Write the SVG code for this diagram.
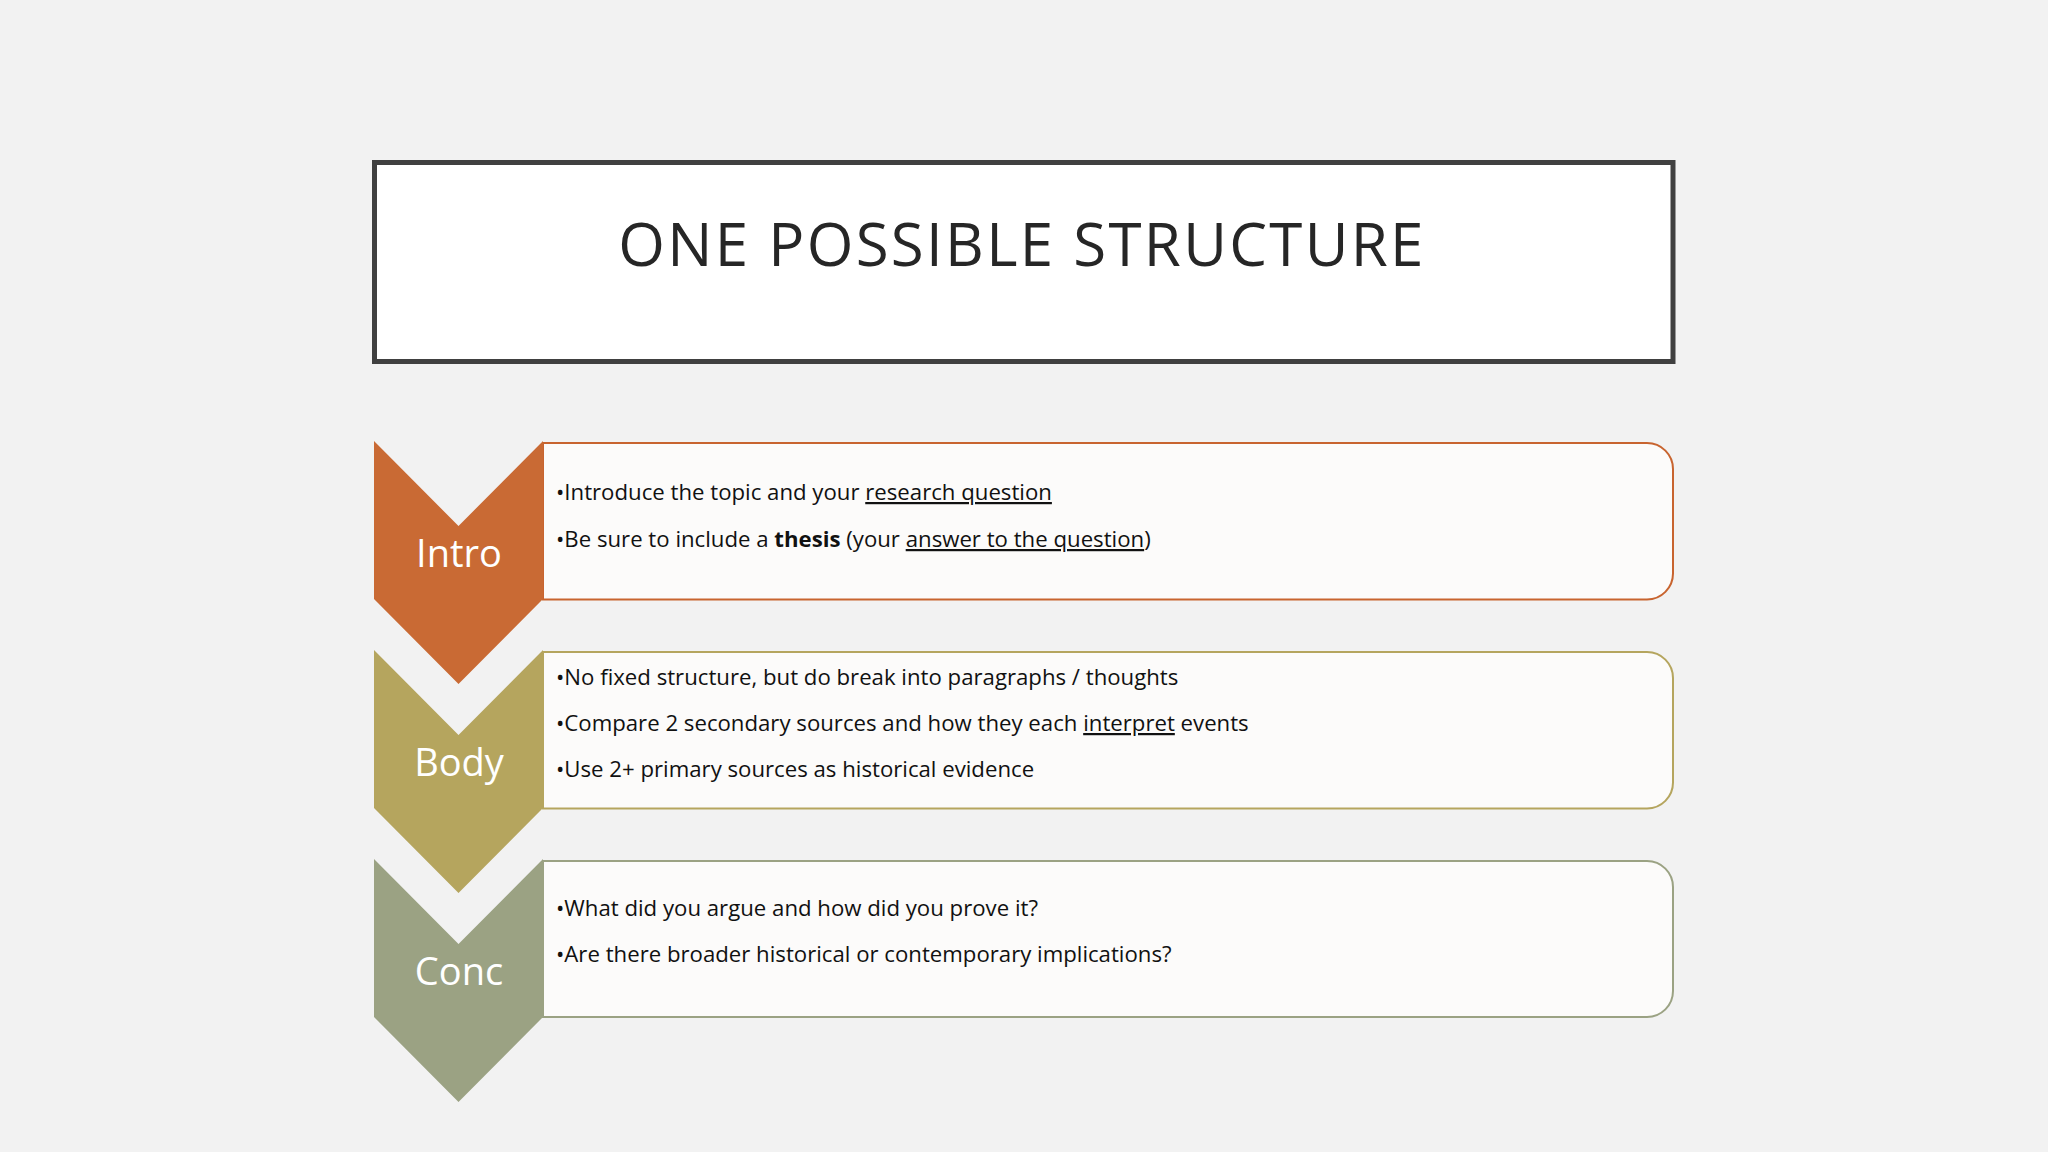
<svg xmlns="http://www.w3.org/2000/svg" width="2048" height="1152" viewBox="0 0 2048 1152">
<style>
.bg{fill:#F2F2F2}
.title-box{fill:#FFFFFF;stroke:#404040;stroke-width:5}
.title{font-family:"Open Sans","Noto Sans",sans-serif;font-size:60px;fill:#262626;letter-spacing:2.3px}
.label{font-family:"Open Sans","Noto Sans",sans-serif;font-size:38px;fill:#FFFFFF}
.item{font-family:"Open Sans","Noto Sans",sans-serif;font-size:22.2px;fill:#111111}
.u{text-decoration:underline}
.b{font-weight:bold}
.box{fill:#FCFBFA;stroke-width:2}
</style>
<rect class="bg" x="0" y="0" width="2048" height="1152"/>
<g id="title">
<rect class="title-box" x="374.5" y="162.5" width="1298.5" height="199"/>
<text class="title" x="1022" y="266" text-anchor="middle">ONE POSSIBLE STRUCTURE</text>
</g>
<g id="connectors"></g>
<g id="intro-box">
<path class="box" stroke="#C8642F" d="M543 443 H1647 A26 26 0 0 1 1673 469 V573.5 A26 26 0 0 1 1647 599.5 H543 Z"/>
<text class="item" x="556" y="500">•Introduce the topic and your <tspan class="u">research question</tspan></text>
<text class="item" x="556" y="547">•Be sure to include a <tspan class="b">thesis</tspan> (your <tspan class="u">answer to the question</tspan>)</text>
</g>
<g id="intro">
<path fill="#C96A34" d="M374 441 L458.5 526 L543 441 L543 599 L458.5 684 L374 599 Z"/>
<text class="label" x="459" y="567" text-anchor="middle">Intro</text>
</g>
<g id="body-box">
<path class="box" stroke="#B5A55E" d="M543 652 H1647 A26 26 0 0 1 1673 678 V782.5 A26 26 0 0 1 1647 808.5 H543 Z"/>
<text class="item" x="556" y="685">•No fixed structure, but do break into paragraphs / thoughts</text>
<text class="item" x="556" y="731">•Compare 2 secondary sources and how they each <tspan class="u">interpret</tspan> events</text>
<text class="item" x="556" y="777">•Use 2+ primary sources as historical evidence</text>
</g>
<g id="body">
<path fill="#B5A55E" d="M374 650 L458.5 735 L543 650 L543 808 L458.5 893 L374 808 Z"/>
<text class="label" x="459" y="776" text-anchor="middle">Body</text>
</g>
<g id="conc-box">
<path class="box" stroke="#9BA283" d="M543 861 H1647 A26 26 0 0 1 1673 887 V991 A26 26 0 0 1 1647 1017 H543 Z"/>
<text class="item" x="556" y="916">•What did you argue and how did you prove it?</text>
<text class="item" x="556" y="962">•Are there broader historical or contemporary implications?</text>
</g>
<g id="conc">
<path fill="#9BA283" d="M374 859 L458.5 944 L543 859 L543 1017 L458.5 1102 L374 1017 Z"/>
<text class="label" x="459" y="985" text-anchor="middle">Conc</text>
</g>
</svg>
